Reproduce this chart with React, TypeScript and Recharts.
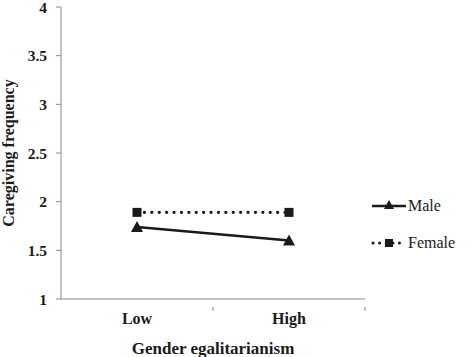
import { LineChart, Line, XAxis, YAxis, Label } from 'recharts';

const categories = ['Low', 'High'];
const maleValues = [1.74, 1.6];
const femaleValues = [1.89, 1.89];
const yTicks = [1, 1.5, 2, 2.5, 3, 3.5, 4];

const data = categories.map((c, i) => ({ level: c, male: maleValues[i], female: femaleValues[i] }));

const FONT = "'Liberation Serif', 'Times New Roman', 'DejaVu Serif', serif";
const AXIS = '#8a8a8a';
const INK = '#1a1a1a';

const W = 474;
const H = 357;
const MARGIN = { top: 7, right: 109, bottom: 0, left: 0 };
const Y_W = 61;
const BAND = (W - MARGIN.right - Y_W) / categories.length;

function Square(props: any) {
  const { cx, cy } = props;
  if (cx == null || cy == null) return null;
  return <rect x={cx - 4.5} y={cy - 4.5} width={9} height={9} fill={INK} />;
}

function Triangle(props: any) {
  const { cx, cy } = props;
  if (cx == null || cy == null) return null;
  return <polygon points={`${cx},${cy - 6} ${cx - 6},${cy + 5} ${cx + 6},${cy + 5}`} fill={INK} />;
}

function XTick(props: any) {
  const { x, y, payload } = props;
  return (
    <g>
      <line x1={x + BAND / 2} y1={y} x2={x + BAND / 2} y2={y + 4} stroke={AXIS} />
      <text x={x} y={y} dy={17} textAnchor="middle" style={{ fontFamily: FONT }} fontWeight="bold" fontSize={16} fill={INK}>
        {payload.value}
      </text>
    </g>
  );
}

function LegendBox() {
  return (
    <svg width={110} height={60} style={{ fontFamily: FONT }}>
      <g>
        <line x1={2} y1={12} x2={36} y2={12} stroke={INK} strokeWidth={2.5} />
        <polygon points="19,6 14,15 24,15" fill={INK} />
        <text x={38} y={17} fontSize={16} fill={INK}>Male</text>
      </g>
      <g>
        <line x1={3} y1={49} x2={36} y2={49} stroke={INK} strokeWidth={3} strokeDasharray="0.1 6.5" strokeLinecap="round" />
        <rect x={15} y={45} width={8} height={8} fill={INK} />
        <text x={38} y={54} fontSize={16} fill={INK}>Female</text>
      </g>
    </svg>
  );
}

export default function App() {
  return (
    <div style={{ position: 'absolute', left: 0, top: 0, width: W, height: H, background: '#fff', fontFamily: FONT }}>
      <LineChart width={W} height={H} data={data} margin={MARGIN}>
        <XAxis
          dataKey="level"
          stroke={AXIS}
          tickLine={false}
          tick={<XTick />}
          interval={0}
          height={58}
          padding={{ left: BAND / 2, right: BAND / 2 }}
        >
          <Label
            value="Gender egalitarianism"
            position="insideBottom"
            offset={3}
            style={{ fontFamily: FONT, fontWeight: 'bold', fontSize: 17, fill: INK }}
          />
        </XAxis>
        <YAxis
          domain={[1, 4]}
          ticks={yTicks}
          interval={0}
          width={Y_W}
          stroke={AXIS}
          tickSize={5}
          tickMargin={9}
          tick={{ style: { fontFamily: FONT }, fontWeight: 'bold', fontSize: 15.5, fill: INK }}
        >
          <Label
            value="Caregiving frequency"
            angle={-90}
            position="insideLeft"
            offset={8}
            style={{ textAnchor: 'middle', fontFamily: FONT, fontWeight: 'bold', fontSize: 16, fill: INK }}
          />
        </YAxis>
        <Line
          dataKey="female"
          stroke={INK}
          strokeWidth={3.2}
          strokeDasharray="0.1 7.3"
          strokeLinecap="round"
          dot={<Square />}
          isAnimationActive={false}
        />
        <Line
          dataKey="male"
          stroke={INK}
          strokeWidth={2.5}
          dot={<Triangle />}
          isAnimationActive={false}
        />
      </LineChart>
      <div style={{ position: 'absolute', left: 370, top: 194 }}>
        <LegendBox />
      </div>
    </div>
  );
}
